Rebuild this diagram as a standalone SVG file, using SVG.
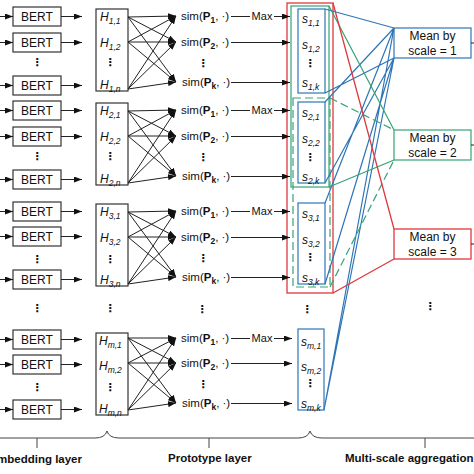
<svg xmlns="http://www.w3.org/2000/svg" width="474" height="474" viewBox="0 0 474 474">
<defs>
<marker id="ah" viewBox="0 0 8 6" refX="8" refY="3" markerWidth="8" markerHeight="6" markerUnits="userSpaceOnUse" orient="auto"><path d="M0,0 L8,3 L0,6 z" fill="#111"/></marker>
<style>
.box{fill:#fff;stroke:#333;stroke-width:1.2}
.t{font-family:"Liberation Sans",Arial,sans-serif;font-size:12px;fill:#111}
.it{font-style:italic}
.ln{stroke:#222;stroke-width:1;fill:none}
.arr{stroke:#222;stroke-width:1;fill:none;marker-end:url(#ah)}
.dots{font-family:"DejaVu Sans",sans-serif;font-size:11px;font-weight:bold;text-anchor:middle;fill:#111}
.blue{stroke:#2E75B6;stroke-width:1.2;fill:none}
.green{stroke:#35A374;stroke-width:1.2;fill:none}
.red{stroke:#E0383E;stroke-width:1.3;fill:none}
.dash{stroke-dasharray:8,4}
.lbl{font-family:"Liberation Sans",Arial,sans-serif;font-size:11.5px;font-weight:bold;fill:#111}
.sim{font-family:"Liberation Sans",Arial,sans-serif;font-size:11.5px;fill:#111}
.max{font-family:"Liberation Sans",Arial,sans-serif;font-size:11px;fill:#111;text-anchor:middle}
.mean{font-family:"Liberation Sans",Arial,sans-serif;font-size:12px;fill:#111;text-anchor:middle}
</style>
</defs>

<!-- BERT nodes -->
<g id="bert-1-1"><rect class="box" x="13" y="7" width="48" height="19"/><text class="t" x="37" y="20.5" text-anchor="middle">BERT</text></g>
<g id="bert-1-2"><rect class="box" x="13" y="33" width="48" height="19"/><text class="t" x="37" y="46.5" text-anchor="middle">BERT</text></g>
<g id="bert-1-n"><rect class="box" x="13" y="76" width="48" height="19"/><text class="t" x="37" y="89.5" text-anchor="middle">BERT</text></g>
<g id="bert-2-1"><rect class="box" x="13" y="101" width="48" height="19"/><text class="t" x="37" y="114.5" text-anchor="middle">BERT</text></g>
<g id="bert-2-2"><rect class="box" x="13" y="127" width="48" height="19"/><text class="t" x="37" y="140.5" text-anchor="middle">BERT</text></g>
<g id="bert-2-n"><rect class="box" x="13" y="170" width="48" height="19"/><text class="t" x="37" y="183.5" text-anchor="middle">BERT</text></g>
<g id="bert-3-1"><rect class="box" x="13" y="202" width="48" height="19"/><text class="t" x="37" y="215.5" text-anchor="middle">BERT</text></g>
<g id="bert-3-2"><rect class="box" x="13" y="227" width="48" height="19"/><text class="t" x="37" y="240.5" text-anchor="middle">BERT</text></g>
<g id="bert-3-n"><rect class="box" x="13" y="270" width="48" height="19"/><text class="t" x="37" y="283.5" text-anchor="middle">BERT</text></g>
<g id="bert-m-1"><rect class="box" x="13" y="330" width="48" height="19"/><text class="t" x="37" y="343.5" text-anchor="middle">BERT</text></g>
<g id="bert-m-2"><rect class="box" x="13" y="355" width="48" height="19"/><text class="t" x="37" y="368.5" text-anchor="middle">BERT</text></g>
<g id="bert-m-n"><rect class="box" x="13" y="400" width="48" height="19"/><text class="t" x="37" y="413.5" text-anchor="middle">BERT</text></g>

<!-- H nodes -->
<g id="h-1"><rect class="box" x="96" y="9" width="32" height="82"/>
<text class="t it" x="100" y="21" font-size="13">H<tspan font-size="8.5" dy="3">1,1</tspan></text>
<text class="t it" x="100" y="47" font-size="13">H<tspan font-size="8.5" dy="3">1,2</tspan></text>
<text class="t it" x="100" y="89" font-size="13">H<tspan font-size="8.5" dy="3">1,n</tspan></text></g>
<g id="h-2"><rect class="box" x="96" y="103" width="32" height="82"/>
<text class="t it" x="100" y="115" font-size="13">H<tspan font-size="8.5" dy="3">2,1</tspan></text>
<text class="t it" x="100" y="141" font-size="13">H<tspan font-size="8.5" dy="3">2,2</tspan></text>
<text class="t it" x="100" y="183" font-size="13">H<tspan font-size="8.5" dy="3">2,n</tspan></text></g>
<g id="h-3"><rect class="box" x="96" y="204" width="32" height="82"/>
<text class="t it" x="100" y="216" font-size="13">H<tspan font-size="8.5" dy="3">3,1</tspan></text>
<text class="t it" x="100" y="242" font-size="13">H<tspan font-size="8.5" dy="3">3,2</tspan></text>
<text class="t it" x="100" y="284" font-size="13">H<tspan font-size="8.5" dy="3">3,n</tspan></text></g>
<g id="h-m"><rect class="box" x="96" y="333" width="32" height="82"/>
<text class="t it" x="99" y="345" font-size="13">H<tspan font-size="8.5" dy="3">m,1</tspan></text>
<text class="t it" x="99" y="370" font-size="13">H<tspan font-size="8.5" dy="3">m,2</tspan></text>
<text class="t it" x="99" y="413" font-size="13">H<tspan font-size="8.5" dy="3">m,n</tspan></text></g>

<!-- sim nodes -->
<g id="sim-1">
<text class="sim" x="181" y="20">sim(<tspan font-weight="bold">P</tspan><tspan font-weight="bold" font-size="8.5" dy="3">1</tspan><tspan dy="-3">, ·)</tspan></text>
<text class="sim" x="181" y="46">sim(<tspan font-weight="bold">P</tspan><tspan font-weight="bold" font-size="8.5" dy="3">2</tspan><tspan dy="-3">, ·)</tspan></text>
<text class="sim" x="182" y="86">sim(<tspan font-weight="bold">P</tspan><tspan font-weight="bold" font-size="8.5" dy="3">k</tspan><tspan dy="-3">, ·)</tspan></text></g>
<g id="sim-2">
<text class="sim" x="181" y="114">sim(<tspan font-weight="bold">P</tspan><tspan font-weight="bold" font-size="8.5" dy="3">1</tspan><tspan dy="-3">, ·)</tspan></text>
<text class="sim" x="181" y="140">sim(<tspan font-weight="bold">P</tspan><tspan font-weight="bold" font-size="8.5" dy="3">2</tspan><tspan dy="-3">, ·)</tspan></text>
<text class="sim" x="182" y="180">sim(<tspan font-weight="bold">P</tspan><tspan font-weight="bold" font-size="8.5" dy="3">k</tspan><tspan dy="-3">, ·)</tspan></text></g>
<g id="sim-3">
<text class="sim" x="181" y="215">sim(<tspan font-weight="bold">P</tspan><tspan font-weight="bold" font-size="8.5" dy="3">1</tspan><tspan dy="-3">, ·)</tspan></text>
<text class="sim" x="181" y="241">sim(<tspan font-weight="bold">P</tspan><tspan font-weight="bold" font-size="8.5" dy="3">2</tspan><tspan dy="-3">, ·)</tspan></text>
<text class="sim" x="182" y="281">sim(<tspan font-weight="bold">P</tspan><tspan font-weight="bold" font-size="8.5" dy="3">k</tspan><tspan dy="-3">, ·)</tspan></text></g>
<g id="sim-m">
<text class="sim" x="181" y="342">sim(<tspan font-weight="bold">P</tspan><tspan font-weight="bold" font-size="8.5" dy="3">1</tspan><tspan dy="-3">, ·)</tspan></text>
<text class="sim" x="181" y="367">sim(<tspan font-weight="bold">P</tspan><tspan font-weight="bold" font-size="8.5" dy="3">2</tspan><tspan dy="-3">, ·)</tspan></text>
<text class="sim" x="182" y="407">sim(<tspan font-weight="bold">P</tspan><tspan font-weight="bold" font-size="8.5" dy="3">k</tspan><tspan dy="-3">, ·)</tspan></text></g>

<!-- scale grouping boxes -->
<g id="scale3-box"><rect class="red" x="287" y="3" width="46" height="290"/></g>
<g id="scale2-box-a"><rect class="green" x="291" y="6" width="38" height="181"/></g>
<g id="scale2-box-b"><rect class="green dash" x="293" y="98" width="37" height="189"/></g>

<!-- s nodes -->
<g id="s-1"><rect class="blue" x="298" y="9" width="27" height="84"/>
<text class="t it" x="302" y="23" font-size="14">s<tspan font-size="8.5" dy="3">1,1</tspan></text>
<text class="t it" x="302" y="49" font-size="14">s<tspan font-size="8.5" dy="3">1,2</tspan></text>
<text class="t it" x="302" y="87" font-size="14">s<tspan font-size="8.5" dy="3">1,k</tspan></text></g>
<g id="s-2"><rect class="blue" x="298" y="102" width="27" height="81"/>
<text class="t it" x="302" y="117" font-size="14">s<tspan font-size="8.5" dy="3">2,1</tspan></text>
<text class="t it" x="302" y="143" font-size="14">s<tspan font-size="8.5" dy="3">2,2</tspan></text>
<text class="t it" x="302" y="181" font-size="14">s<tspan font-size="8.5" dy="3">2,k</tspan></text></g>
<g id="s-3"><rect class="blue" x="298" y="203" width="27" height="81"/>
<text class="t it" x="302" y="218" font-size="14">s<tspan font-size="8.5" dy="3">3,1</tspan></text>
<text class="t it" x="302" y="244" font-size="14">s<tspan font-size="8.5" dy="3">3,2</tspan></text>
<text class="t it" x="302" y="282" font-size="14">s<tspan font-size="8.5" dy="3">3,k</tspan></text></g>
<g id="s-m"><rect class="blue" x="298" y="329" width="26" height="81"/>
<text class="t it" x="301" y="346" font-size="14">s<tspan font-size="8.5" dy="3">m,1</tspan></text>
<text class="t it" x="301" y="371" font-size="14">s<tspan font-size="8.5" dy="3">m,2</tspan></text>
<text class="t it" x="301" y="408" font-size="14">s<tspan font-size="8.5" dy="3">m,k</tspan></text></g>

<!-- Mean nodes -->
<g id="mean-1"><rect class="blue" x="394" y="28" width="77" height="30" fill="#fff"/><text class="mean" x="432.5" y="40">Mean by</text><text class="mean" x="432.5" y="55">scale = 1</text></g>
<g id="mean-2"><rect class="green" x="394" y="130" width="77" height="30" fill="#fff"/><text class="mean" x="432.5" y="142">Mean by</text><text class="mean" x="432.5" y="157">scale = 2</text></g>
<g id="mean-3"><rect class="red" x="394" y="229" width="77" height="30" fill="#fff"/><text class="mean" x="432.5" y="241">Mean by</text><text class="mean" x="432.5" y="256">scale = 3</text></g>

<!-- dots -->
<g id="ellipses">
<text class="dots" x="37" y="66">⋮</text><text class="dots" x="110" y="66">⋮</text><text class="dots" x="203" y="67">⋮</text><text class="dots" x="310" y="67">⋮</text>
<text class="dots" x="37" y="160">⋮</text><text class="dots" x="110" y="160">⋮</text><text class="dots" x="203" y="161">⋮</text><text class="dots" x="310" y="161">⋮</text>
<text class="dots" x="37" y="263">⋮</text><text class="dots" x="110" y="263">⋮</text><text class="dots" x="203" y="262">⋮</text><text class="dots" x="310" y="261">⋮</text>
<text class="dots" x="37" y="312">⋮</text><text class="dots" x="110" y="312">⋮</text><text class="dots" x="202" y="313">⋮</text><text class="dots" x="307" y="313">⋮</text><text class="dots" x="430" y="310">⋮</text>
<text class="dots" x="37" y="391">⋮</text><text class="dots" x="110" y="391">⋮</text><text class="dots" x="203" y="388">⋮</text><text class="dots" x="310" y="387">⋮</text>
</g>

<!-- connectors -->
<g id="connectors">
<!-- inputs -->
<path class="arr" d="M0,16.5H13"/><path class="arr" d="M0,42.5H13"/><path class="arr" d="M0,85.5H13"/>
<path class="arr" d="M0,110.5H13"/><path class="arr" d="M0,136.5H13"/><path class="arr" d="M0,179.5H13"/>
<path class="arr" d="M0,211.5H13"/><path class="arr" d="M0,236.5H13"/><path class="arr" d="M0,279.5H13"/>
<path class="arr" d="M0,339.5H13"/><path class="arr" d="M0,364.5H13"/><path class="arr" d="M0,409.5H13"/>
<!-- BERT to H -->
<path class="arr" d="M61,16.5H82"/><path class="arr" d="M61,42.5H82"/><path class="arr" d="M61,85.5H82"/>
<path class="arr" d="M61,110.5H82"/><path class="arr" d="M61,136.5H82"/><path class="arr" d="M61,179.5H82"/>
<path class="arr" d="M61,211.5H82"/><path class="arr" d="M61,236.5H82"/><path class="arr" d="M61,279.5H82"/>
<path class="arr" d="M61,339.5H82"/><path class="arr" d="M61,364.5H82"/><path class="arr" d="M61,409.5H82"/>
<!-- fans block 1 -->
<path class="arr" d="M128,17L176,16"/><path class="arr" d="M128,17L176,42"/><path class="arr" d="M128,17L176,82"/>
<path class="arr" d="M128,42L176,16"/><path class="arr" d="M128,42L176,42"/><path class="arr" d="M128,42L176,82"/>
<path class="arr" d="M128,89L176,16"/><path class="arr" d="M128,89L176,42"/><path class="arr" d="M128,89L176,82"/>
<!-- fans block 2 -->
<path class="arr" d="M128,111L176,110"/><path class="arr" d="M128,111L176,136"/><path class="arr" d="M128,111L176,176"/>
<path class="arr" d="M128,136L176,110"/><path class="arr" d="M128,136L176,136"/><path class="arr" d="M128,136L176,176"/>
<path class="arr" d="M128,183L176,110"/><path class="arr" d="M128,183L176,136"/><path class="arr" d="M128,183L176,176"/>
<!-- fans block 3 -->
<path class="arr" d="M128,212L176,211"/><path class="arr" d="M128,212L176,237"/><path class="arr" d="M128,212L176,277"/>
<path class="arr" d="M128,237L176,211"/><path class="arr" d="M128,237L176,237"/><path class="arr" d="M128,237L176,277"/>
<path class="arr" d="M128,284L176,211"/><path class="arr" d="M128,284L176,237"/><path class="arr" d="M128,284L176,277"/>
<!-- fans block m -->
<path class="arr" d="M128,338L176,338"/><path class="arr" d="M128,338L176,363"/><path class="arr" d="M128,338L176,403"/>
<path class="arr" d="M128,363L176,338"/><path class="arr" d="M128,363L176,363"/><path class="arr" d="M128,363L176,403"/>
<path class="arr" d="M128,410L176,338"/><path class="arr" d="M128,410L176,363"/><path class="arr" d="M128,410L176,403"/>
<!-- sim to s -->
<path class="ln" d="M231,16.5H250"/><path class="arr" d="M274,16.5H290"/><text class="max" x="262" y="20">Max</text>
<path class="arr" d="M231,42.5H290"/><path class="arr" d="M231,82.5H290"/>
<path class="ln" d="M231,110.5H250"/><path class="arr" d="M274,110.5H290"/><text class="max" x="262" y="114">Max</text>
<path class="arr" d="M231,136.5H290"/><path class="arr" d="M231,176.5H290"/>
<path class="ln" d="M231,211.5H250"/><path class="arr" d="M274,211.5H290"/><text class="max" x="262" y="215">Max</text>
<path class="arr" d="M231,237.5H290"/><path class="arr" d="M231,277.5H290"/>
<path class="ln" d="M231,338.5H250"/><path class="arr" d="M274,338.5H292"/><text class="max" x="262" y="342">Max</text>
<path class="arr" d="M231,363.5H292"/><path class="arr" d="M231,403.5H292"/>
<!-- to Mean by scale = 1 -->
<path class="blue" stroke-width="1" d="M325,9L394,28M325,93L394,58M325,102L394,28M325,183L394,58M325,203L394,28M325,284L394,58M324,410L394,28M324,410L394,58"/>
<!-- to Mean by scale = 2 -->
<path class="green" stroke-width="1" d="M329,6L394,130M329,187L394,160"/>
<path class="green dash" stroke-width="1" d="M330,98L394,130M330,287L394,160"/>
<!-- to Mean by scale = 3 -->
<path class="red" stroke-width="1" d="M333,3L394,229M333,293L394,259"/>
<!-- outputs -->
<path class="ln" d="M471,43H474M471,145H474M471,244H474"/>
</g>

<!-- layer braces -->
<g id="braces">
<path d="M-40,438H95Q105,438 107,431Q109,438 119,438H298Q308,438 310,431Q312,438 322,438H480M37,438V448M209,438V448M425,438V448" fill="none" stroke="#444" stroke-width="1"/>
<text class="lbl" x="82" y="463" text-anchor="end">Embedding layer</text>
<text class="lbl" x="168" y="462">Prototype layer</text>
<text class="lbl" x="345" y="462">Multi-scale aggregation</text>
</g>
</svg>
